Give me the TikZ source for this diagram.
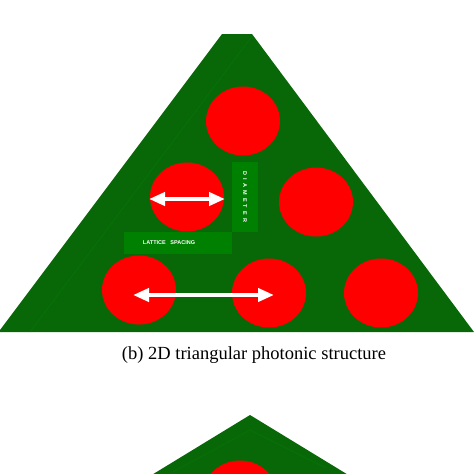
\documentclass[tikz,border=0pt]{standalone}
\usepackage{fontspec}
\setmainfont{Liberation Serif}
\setsansfont{Liberation Sans}
\usetikzlibrary{shapes.geometric, arrows.meta}
\definecolor{slab}{RGB}{8,104,8}
\definecolor{tag}{RGB}{0,128,0}
\definecolor{rod}{RGB}{255,0,0}
\begin{document}
\begin{tikzpicture}[x=1pt, y=-1pt,
    rod/.style={ellipse, fill=rod, inner sep=0pt, minimum width=74pt, minimum height=69pt},
    tagbox/.style={rectangle, fill=tag, inner sep=0pt},
    tagtext/.style={text=white, font=\sffamily\bfseries\fontsize{5.5}{6}\selectfont, inner sep=0pt},
    measure/.style={draw=white, line width=4.5pt, {Triangle[width=13pt,length=16pt]}-{Triangle[width=13pt,length=16pt]}}]
    \useasboundingbox (0,0) rectangle (474,474);
    \clip (0,0) rectangle (474,474);

    % upper lattice
    \fill[slab] (0,330) -- (222,34) -- (252,34) -- (474,332) -- (30,332) -- (0,332) -- cycle;
    \draw[tag!60!slab, line width=0.5pt] (30,332) -- (253,35);

    \node[rod] (r1) at (243,121) {};
    \node[rod] (r2) at (187,197) {};
    \node[rod] (r3) at (316,202) {};
    \node[rod] (r4) at (139,290) {};
    \node[rod] (r5) at (269,293) {};
    \node[rod] (r6) at (381,293) {};

    \node[tagbox, minimum width=26pt, minimum height=70pt] (dbox) at (245,197) {};
    \node[tagtext, rotate=-90] (dtext) at (dbox.center) {D\ \ I\ \ A\ \ M\ \ E\ \ T\ \ E\ \ R};
    \node[tagbox, minimum width=108pt, minimum height=22pt] (lbox) at (178,243) {};
    \node[tagtext] (ltext) at (169,243) {LATTICE\ \ \ SPACING};

    \coordinate (d1) at (149,199);
    \coordinate (d2) at (225,199);
    \draw[measure] (d1) -- (d2);
    \coordinate (a1) at (133,295);
    \coordinate (a2) at (274,295);
    \draw[measure] (a1) -- (a2);

    \node[font=\fontsize{18.5}{20}\selectfont, inner sep=0pt] (cap) at (254,355) {(b) 2D triangular photonic structure};

    % lower lattice, cut by the page
    \fill[slab] (250,415) -- (350,476) -- (150,476) -- cycle;
    \draw[tag!60!slab, line width=0.5pt] (173,472) -- (250,430) -- (326,468);
    \node[rod] (s1) at (240,495) {};
\end{tikzpicture}
\end{document}
